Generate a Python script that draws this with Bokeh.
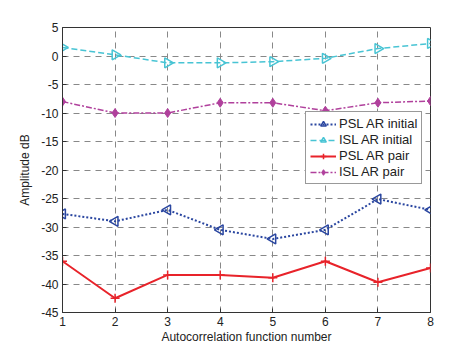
import numpy as np
from bokeh.plotting import figure
from bokeh.models import Range1d, FixedTicker, Legend, LegendItem
from bokeh.embed import file_html
from bokeh.resources import INLINE

x = [1, 2, 3, 4, 5, 6, 7, 8]
psl_initial = [-27.7, -29.0, -27.0, -30.5, -32.1, -30.5, -25.1, -27.0]
isl_initial = [1.5, 0.2, -1.2, -1.2, -1.0, -0.4, 1.3, 2.2]
psl_pair = [-36.0, -42.5, -38.4, -38.4, -38.9, -36.0, -39.7, -37.2]
isl_pair = [-8.0, -10.0, -10.0, -8.2, -8.2, -9.6, -8.2, -7.9]
x_ticks = [1, 2, 3, 4, 5, 6, 7, 8]
y_ticks = [-45, -40, -35, -30, -25, -20, -15, -10, -5, 0, 5]

FONT = "Liberation Sans"

p = figure(width=474, height=351, output_backend="svg", toolbar_location=None,
           x_range=Range1d(1, 8), y_range=Range1d(-45, 5),
           min_border_left=62, min_border_right=44, min_border_top=27, min_border_bottom=39)
p.background_fill_color = "white"
p.border_fill_color = "white"
p.outline_line_color = "#333333"
p.outline_line_width = 1

for ax in (p.xaxis[0], p.yaxis[0]):
    ax.major_tick_in = 4
    ax.major_tick_out = 0
    ax.minor_tick_in = 0
    ax.minor_tick_out = 0
    ax.axis_line_color = "#333333"
    ax.major_tick_line_color = "#333333"
    ax.major_label_text_font = FONT
    ax.major_label_text_font_size = "12px"
    ax.major_label_text_color = "#222222"
    ax.axis_label_text_font = FONT
    ax.axis_label_text_font_size = "12px"
    ax.axis_label_text_font_style = "normal"
    ax.axis_label_text_color = "#222222"

p.xaxis.ticker = FixedTicker(ticks=x_ticks)
p.yaxis.ticker = FixedTicker(ticks=y_ticks)
p.yaxis.major_label_overrides = {t: str(t) for t in y_ticks}
p.xaxis.axis_label = "Autocorrelation function number"
p.yaxis.axis_label = "Amplitude dB"
p.xaxis.major_label_standoff = 4
p.xaxis.axis_label_standoff = 1
p.yaxis.major_label_standoff = 4
p.yaxis.axis_label_standoff = 6

for g in (p.xgrid[0], p.ygrid[0]):
    g.grid_line_color = "#888888"
    g.grid_line_dash = "6 5"
    g.grid_line_width = 1

c_psl_i = "#2a46a0"
c_isl_i = "#48c4d4"
c_psl_p = "#e8232a"
c_isl_p = "#b0409c"

l1 = p.line(x, psl_initial, line_color=c_psl_i, line_width=2, line_dash="2 2")
m1 = p.scatter(x, psl_initial, marker="triangle", angle=np.pi / 2, size=10,
               line_color=c_psl_i, fill_color="white", fill_alpha=0, line_width=1.5)
l2 = p.line(x, isl_initial, line_color=c_isl_i, line_width=1.5, line_dash="6 3")
m2 = p.scatter(x, isl_initial, marker="triangle", angle=-np.pi / 2, size=10,
               line_color=c_isl_i, fill_color="white", fill_alpha=0, line_width=1.5)
l3 = p.line(x, psl_pair, line_color=c_psl_p, line_width=2)
m3 = p.scatter(x, psl_pair, marker="cross", size=9, line_color=c_psl_p, line_width=1.5)
l4 = p.line(x, isl_pair, line_color=c_isl_p, line_width=1.5, line_dash="6 2 2 2")
m4 = p.scatter(x, isl_pair, marker="diamond", size=9, line_color=c_isl_p, fill_color=c_isl_p)

legend = Legend(items=[
    LegendItem(label="PSL AR initial", renderers=[l1, m1]),
    LegendItem(label="ISL AR initial", renderers=[l2, m2]),
    LegendItem(label="PSL AR pair", renderers=[l3, m3]),
    LegendItem(label="ISL AR pair", renderers=[l4, m4]),
], location=(243, 128))
legend.border_line_color = "#333333"
legend.border_line_width = 1
legend.background_fill_alpha = 1
legend.label_text_font = FONT
legend.label_text_font_size = "13px"
legend.label_text_color = "#222222"
legend.label_height = 14
legend.label_standoff = 3
legend.glyph_height = 14
legend.glyph_width = 26
legend.spacing = 1
legend.padding = 4
legend.margin = 0
p.add_layout(legend, "center")

open("out.html", "w").write(file_html(p, INLINE))
